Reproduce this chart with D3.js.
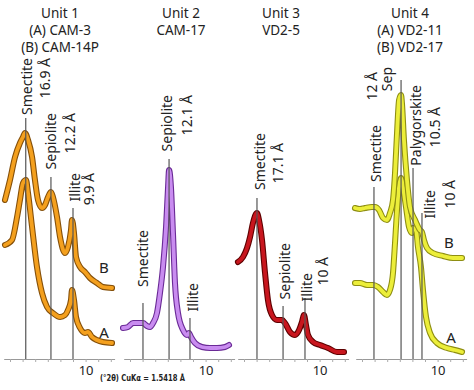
<!DOCTYPE html>
<html lang="en">
<head>
  <meta charset="utf-8">
  <title>XRD Units</title>
  <script src="https://cdn.jsdelivr.net/npm/d3@7"></script>
  <style>
    body { margin: 0; background: #fff; }
    text { font-family: "Noto Sans", sans-serif; fill: #222; }
  </style>
</head>
<body>
  <script>
    // titles of the four panels
    const unitTitles = [
      ["Unit 1", "(A) CAM-3", "(B) CAM-14P"],
      ["Unit 2", "CAM-17"],
      ["Unit 3", "VD2-5"],
      ["Unit 4", "(A) VD2-11", "(B) VD2-17"]
    ];
    const tickValues = [4, 5, 6, 7, 8, 9, 10, 11, 12]; // °2θ
    const tickLabels = { 10: "10" };

    // diffractograms: [°2θ, intensity]
    const unit1A = [[3.6,114],[4.16,119],[4.56,142],[4.79,159],[5.03,176],[5.27,179],[5.43,166],[5.75,132],[6.14,92],[6.54,66],[6.94,52],[7.41,46],[7.97,42],[8.37,44],[8.6,49],[8.84,59],[8.92,69],[9.08,59],[9.24,42],[9.56,31],[9.95,26],[10.19,27],[10.51,22],[10.9,19],[11.38,17],[12.1,16]];
    const unit1B = [[3.6,159],[4.0,179],[4.4,202],[4.79,216],[5.03,222],[5.19,226],[5.43,219],[5.75,202],[5.98,179],[6.22,159],[6.54,151],[6.78,154],[7.02,162],[7.25,167],[7.41,162],[7.73,142],[7.97,122],[8.37,106],[8.6,112],[8.84,129],[8.92,139],[9.08,126],[9.24,102],[9.56,92],[9.95,87],[10.35,81],[10.9,76],[11.38,72],[12.1,71]];
    const unit2 = [[3.44,31],[3.84,32],[4.24,36],[4.63,36],[5.03,36],[5.35,33],[5.59,32],[5.83,36],[6.14,46],[6.38,66],[6.62,92],[6.86,132],[7.02,172],[7.1,189],[7.25,172],[7.41,126],[7.57,76],[7.81,46],[8.21,29],[8.52,24],[8.68,26],[8.84,22],[9.16,16],[9.71,12],[10.35,11],[10.9,11],[11.54,12],[11.86,14]];
    const unit3 = [[3.52,97],[3.92,102],[4.24,111],[4.48,122],[4.71,136],[5.03,146],[5.19,139],[5.43,119],[5.67,86],[5.9,59],[6.22,44],[6.62,39],[7.02,39],[7.25,36],[7.65,27],[8.05,24],[8.37,29],[8.6,37],[8.76,44],[8.92,34],[9.08,24],[9.48,17],[10.03,14],[10.67,11],[11.38,7],[11.94,7]];
    const unit4A = [[3.44,76],[3.84,76],[4.4,74],[4.87,74],[5.27,72],[5.67,67],[5.98,64],[6.22,69],[6.46,86],[6.62,116],[6.78,149],[6.94,172],[7.1,181],[7.25,172],[7.49,152],[7.73,132],[7.97,126],[8.05,131],[8.29,129],[8.44,112],[8.68,92],[8.84,69],[9.08,42],[9.4,26],[9.95,16],[10.75,11],[11.38,9],[11.94,7]];
    const unit4B = [[3.44,151],[3.84,150],[4.24,151],[4.79,152],[5.03,152],[5.35,149],[5.67,141],[5.98,139],[6.22,146],[6.46,159],[6.62,186],[6.78,226],[6.94,259],[7.1,264],[7.17,256],[7.33,219],[7.57,179],[7.81,152],[8.21,139],[8.6,129],[8.76,127],[8.92,119],[9.16,111],[9.63,106],[10.43,103],[11.22,101],[11.94,101]];

    // reflections: position (°2θ), height of marker line, label lines
    const peaks1 = [
      { at: 5.25, top: 241, lines: ["Smectite", "16.9 Å"] },
      { at: 7.25, top: 182, lines: ["Sepiolite", "12.2 Å"] },
      { at: 9.0, top: 151, lines: ["Illite", "9.9 Å"] }
    ];
    const peaks2 = [
      { at: 5.03, top: 56, lines: ["Smectite"] },
      { at: 7.1, top: 200, lines: ["Sepiolite", "12.1 Å"] },
      { at: 8.76, top: 41, lines: ["Illite"] }
    ];
    const peaks3 = [
      { at: 5.03, top: 161, lines: ["Smectite", "17.1 Å"] },
      { at: 7.1, top: 53, lines: ["Sepiolite"] },
      { at: 8.84, top: 61, lines: ["Illite", "10 Å"] }
    ];
    const peaks4 = [
      { at: 4.95, top: 172, lines: ["Smectite"] },
      { at: 7.1, top: 279, lines: ["12 Å", "Sep"] },
      { at: 8.05, top: 191, lines: ["Palygorskite", "10.5 Å"] },
      { at: 8.76, top: 146, lines: ["Illite", "10 Å"] }
    ];
    // sample letters: [letter, °2θ, intensity]
    const letters1 = [["B", 11.46, 86], ["A", 11.46, 21]];
    const letters4 = [["B", 10.9, 111], ["A", 11.06, 16]];

    // layout
    const width = 474, height = 390, baseY = 359;
    const panelX0 = [10, 130, 244, 362];   // pixel of 4 °2θ
    const titleX = [60, 181, 281, 410];
    const pxPerDeg = 12.6;
    // label placement per line: [dx from marker, top y]
    const labelPos = [
      [[[6, 58], [24, 58]], [[5, 113], [24, 113]], [[7, 173], [21, 173]]],
      [[[5, 230]], [[3, 95], [23, 95]], [[8, 283]]],
      [[[8, 133], [26, 143]], [[7, 243]], [[7, 273], [23, 257]]],
      [[[7, 125]], [[-24, 72], [-9, 67]], [[8, 85], [27, 107]], [[13, 190], [33, 180]]]
    ];
    const colors = [
      { fill: "#f4a01e", edge: "#85500a" },
      { fill: "#c98cf0", edge: "#6a2a96" },
      { fill: "#c8161e", edge: "#5e0000" },
      { fill: "#ecee3a", edge: "#8e8e12" }
    ];

    const panels = [
      { series: [unit1A, unit1B], peaks: peaks1, letters: letters1 },
      { series: [unit2], peaks: peaks2, letters: [] },
      { series: [unit3], peaks: peaks3, letters: [] },
      { series: [unit4A, unit4B], peaks: peaks4, letters: letters4 }
    ];

    const svg = d3.select("body").append("svg")
      .attr("width", width).attr("height", height);

    const y = d3.scaleLinear().domain([0, baseY]).range([baseY, 0]);

    panels.forEach((p, i) => {
      const x0 = panelX0[i];
      const x = d3.scaleLinear().domain([3.5, 12.3])
        .range([x0 - 0.5 * pxPerDeg, x0 + 8.3 * pxPerDeg]);
      const g = svg.append("g");

      // axis
      const ax = g.append("g").attr("transform", `translate(0,${baseY})`)
        .call(d3.axisBottom(x).tickValues(tickValues).tickSize(3).tickSizeOuter(0)
          .tickFormat(d => tickLabels[d] || ""));
      ax.select(".domain").attr("stroke", "#999").attr("stroke-width", 1.2);
      ax.selectAll(".tick line").attr("stroke", "#aaa");
      ax.selectAll(".tick text").style("font-family", "Noto Sans, sans-serif")
        .style("font-size", "13px").attr("fill", "#333").attr("dy", "0.78em");

      // curves
      const line = d3.line().x(d => x(d[0])).y(d => y(d[1])).curve(d3.curveMonotoneX);
      p.series.forEach(s => {
        g.append("path").attr("d", line(s)).attr("fill", "none")
          .attr("stroke", colors[i].edge).attr("stroke-width", 6)
          .attr("stroke-linejoin", "round").attr("stroke-linecap", "round");
        g.append("path").attr("d", line(s)).attr("fill", "none")
          .attr("stroke", colors[i].fill).attr("stroke-width", 3.8)
          .attr("stroke-linejoin", "round").attr("stroke-linecap", "round");
      });

      // reflection markers
      p.peaks.forEach((pk, k) => {
        g.append("line")
          .attr("x1", x(pk.at)).attr("x2", x(pk.at))
          .attr("y1", y(0)).attr("y2", y(pk.top))
          .attr("stroke", "#555").attr("stroke-width", 1.2);
        pk.lines.forEach((t, j) => {
          const [dx, ty] = labelPos[i][k][j];
          g.append("text")
            .attr("transform", `translate(${x(pk.at) + dx},${ty}) rotate(-90)`)
            .attr("text-anchor", "end")
            .style("font-size", "14px")
            .text(t);
        });
      });

      // sample letters
      p.letters.forEach(l => {
        g.append("text").attr("x", x(l[1])).attr("y", y(l[2]))
          .attr("text-anchor", "middle").style("font-size", "15px").text(l[0]);
      });

      // title
      unitTitles[i].forEach((t, j) => {
        g.append("text").attr("x", titleX[i]).attr("y", 18 + j * 17)
          .attr("text-anchor", "middle").style("font-size", "13.5px").text(t);
      });
    });

    svg.append("text").attr("x", 100).attr("y", 381)
      .style("font-family", "DejaVu Sans Condensed, sans-serif")
      .style("font-weight", "bold").style("font-size", "9px")
      .attr("textLength", 85).attr("lengthAdjust", "spacingAndGlyphs")
      .text("(°2θ) CuKα = 1.5418 Å");
  </script>
</body>
</html>
